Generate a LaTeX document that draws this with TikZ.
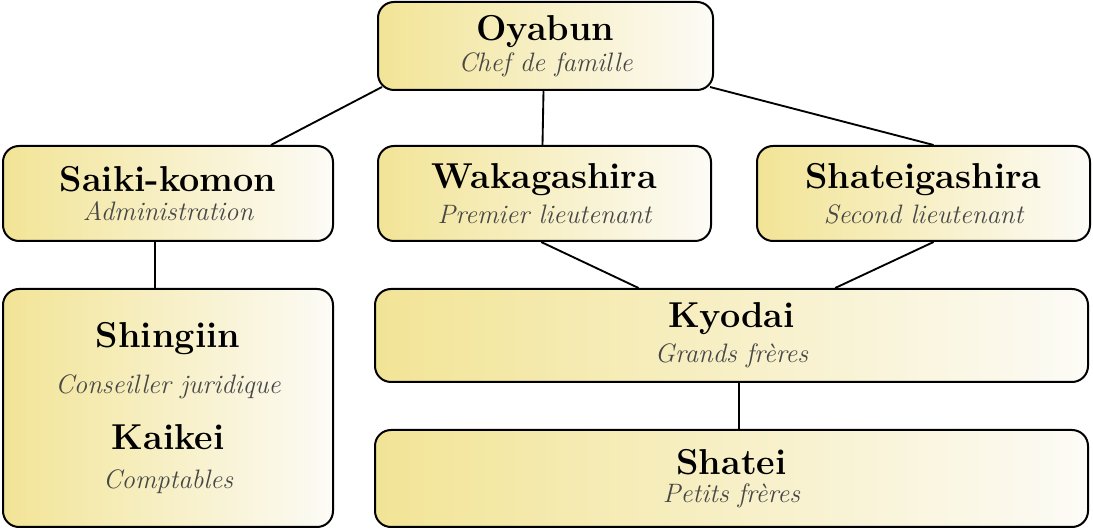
\documentclass[tikz,border=0pt]{standalone}
\usetikzlibrary{calc}
\definecolor{ylw}{RGB}{242,228,150}
\definecolor{wht}{RGB}{252,251,246}
\begin{document}
\begin{tikzpicture}[x=0.75pt,y=-0.75pt,
  box/.style={draw=black,line width=1.5pt,rounded corners=12pt,
    shading angle=60, left color=ylw, right color=wht,inner sep=0pt,align=center},
  ln/.style={line width=1.4pt}]
\useasboundingbox (0,0) rectangle (1093,530);
\def\T#1{{\fontsize{27}{30}\selectfont\bfseries #1}}
\def\S#1{{\fontsize{20}{22}\selectfont\itshape\color{black!72}#1}}
\def\bx#1#2#3#4#5#6{\node[box,minimum width={(#4-#2)*0.75pt},minimum height={(#5-#3)*0.75pt}] (#1) at ({(#2+#4)/2},{(#3+#5)/2}) {#6};}
\bx{oya}{378}{2}{713}{90}{\T{Oyabun}\\[3pt]\S{Chef de famille}}
\bx{saiki}{3}{146}{333}{241}{\T{Saiki-komon}\\[6pt]\S{Administration}}
\bx{waka}{378}{146}{711}{241}{\T{Wakagashira}\\[6pt]\S{Premier lieutenant}}
\bx{shatg}{757}{146}{1090}{241}{\T{Shateigashira}\\[6pt]\S{Second lieutenant}}
\bx{shing}{3}{289}{333}{527}{\T{Shingiin}\\[14pt]\S{Conseiller juridique}\\[18pt]\T{Kaikei}\\[14pt]\S{Comptables}}
\bx{kyo}{375}{289}{1088}{382}{\T{Kyodai}\\[6pt]\S{Grands frères}}
\bx{sha}{375}{430}{1088}{527}{\T{Shatei}\\[6pt]\S{Petits frères}}
\coordinate (c1) at ($(saiki.north west)!0.81!(saiki.north east)$);
\coordinate (c2) at ($(shatg.north west)!0.53!(shatg.north east)$);
\coordinate (c3) at ($(kyo.north west)!0.37!(kyo.north east)$);
\coordinate (c4) at ($(kyo.north west)!0.645!(kyo.north east)$);
\coordinate (c5) at ($(waka.south west)!0.49!(waka.south east)$);
\coordinate (c6) at ($(shatg.south west)!0.53!(shatg.south east)$);
\coordinate (c7) at ($(saiki.south west)!0.46!(saiki.south east)$);
\coordinate (c8) at ($(kyo.south west)!0.511!(kyo.south east)$);
\draw[ln] ($(oya.south west)+(5,-4)$) -- (c1);
\draw[ln] ($(oya.south east)+(-4,-4)$) -- (c2);
\draw[ln] ($(oya.south)+(-2,0)$) -- ($(waka.north)+(-2,0)$);
\draw[ln] (c7) -- (c7 |- shing.north);
\draw[ln] (c5) -- (c3);
\draw[ln] (c6) -- (c4);
\draw[ln] (c8) -- (c8 |- sha.north);
\end{tikzpicture}
\end{document}
